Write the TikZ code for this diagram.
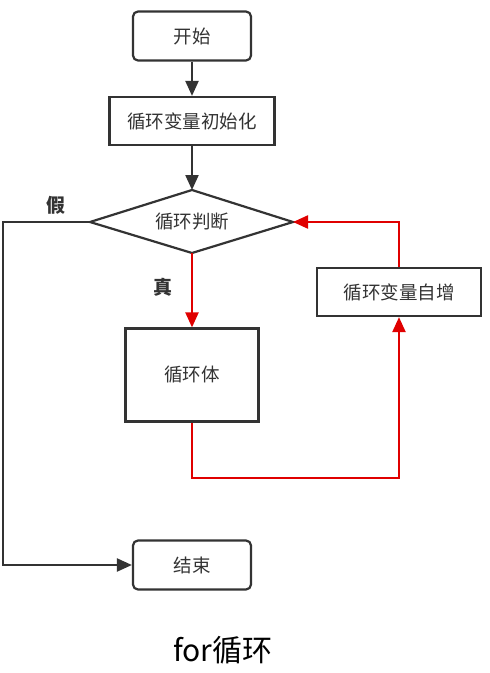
\documentclass[tikz,border=0pt]{standalone}
\usepackage{fontspec}
\setmainfont{Noto Sans CJK SC}
\usetikzlibrary{arrows.meta}
\definecolor{ink}{HTML}{333333}
\definecolor{redline}{HTML}{E00000}
\tikzset{
  box/.style={draw=ink, line width=2.2pt, fill=white, text=ink, font=\fontsize{18.5}{20}\selectfont, inner sep=0pt},
  term/.style={box, rounded corners=5pt, minimum width=118pt, minimum height=49pt},
  proc/.style={box, minimum width=165pt, minimum height=48pt},
  lab/.style={text=ink, font=\fontsize{19}{20}\selectfont\bfseries},
  blk/.style={draw=ink, line width=2.2pt, -{Triangle[length=15pt,width=13pt]}},
  red/.style={draw=redline, line width=2.2pt, -{Triangle[length=15pt,width=13pt]}}
}
\begin{document}
\begin{tikzpicture}[x=1pt,y=-1pt]
\useasboundingbox (0,0) rectangle (490,673);
\node[term] (start) at (192,36) {开始};
\node[proc] (init) at (192,121) {循环变量初始化};
\draw[draw=ink, line width=2.2pt, fill=white] (90,222) coordinate (dl) -- (192,190) coordinate (dt) -- (293,222) coordinate (dr) -- (192,253) coordinate (db) -- cycle;
\node[text=ink, font=\fontsize{18.5}{20}\selectfont] (cond) at (192,222) {循环判断};
\node[box, minimum width=133pt, minimum height=93pt] (body) at (192,375) {循环体};
\node[proc, minimum width=164pt] (inc) at (399,292) {循环变量自增};
\node[term] (end) at (192,565) {结束};
\node[lab] (f) at (56,205) {假};
\node[lab] (t) at (163,287) {真};
\node[font=\fontsize{30}{34}\selectfont] (cap) at (223,650) {for循环};
\draw[blk] (start) -- (init);
\draw[blk] (init) -- (dt);
\draw[blk] (dl) -- (3,222) -- (3,565) -- (end.west);
\draw[red] (db) -- (body.north);
\draw[red] (body.south) -- (192,478) -- (399,478) -- (inc.south);
\draw[red] (inc.north) -- (399,222) -- (dr);
\end{tikzpicture}
\end{document}
